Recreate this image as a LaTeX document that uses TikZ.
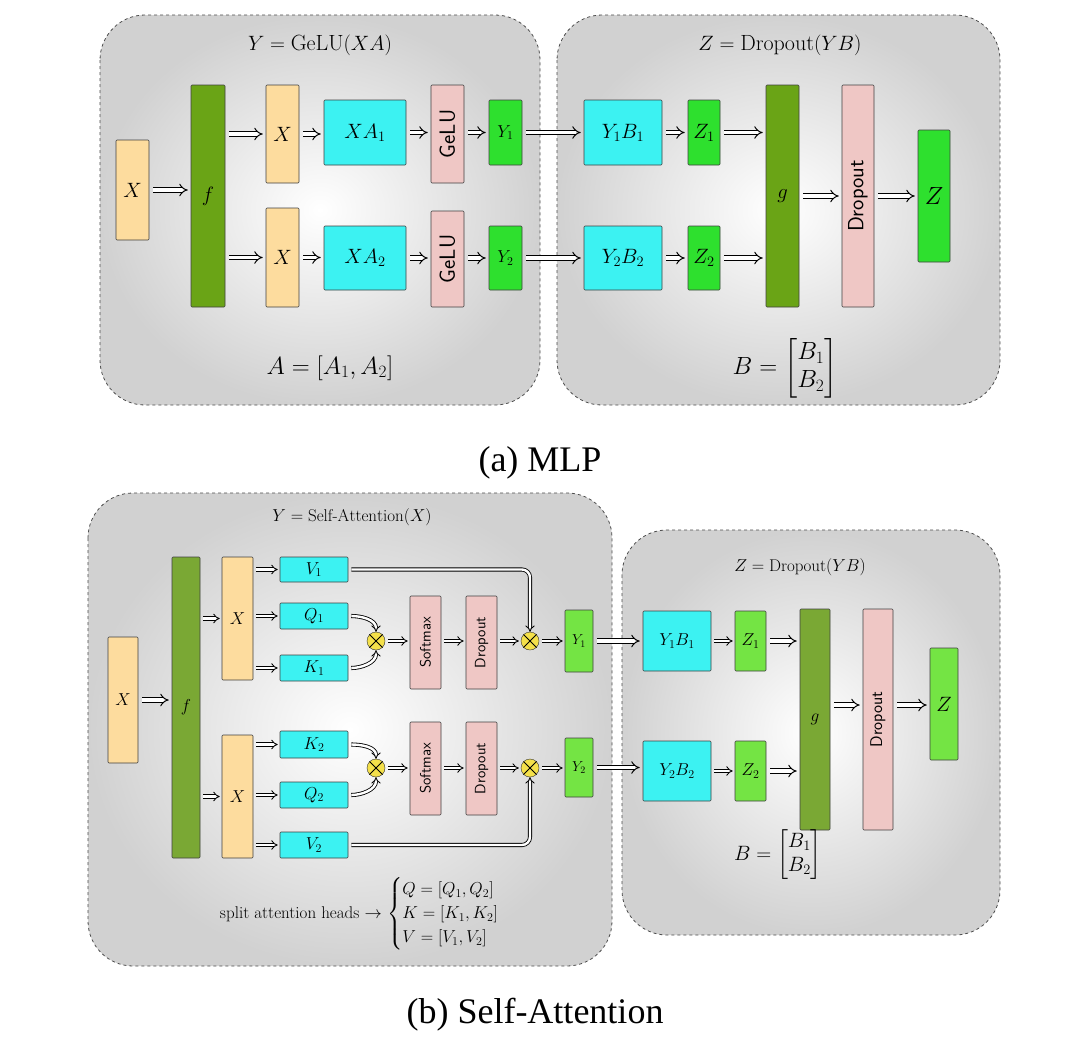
\documentclass[tikz,border=0pt]{standalone}
\usepackage{amsmath}
\usepackage{fontspec}
\newfontfamily\capfont{Liberation Serif}
\usetikzlibrary{arrows.meta}
\definecolor{org}{HTML}{FDDC9E}
\definecolor{cyn}{HTML}{3CF2F2}
\definecolor{grA}{HTML}{2EE02E}
\definecolor{grB}{HTML}{74E444}
\definecolor{dgA}{HTML}{6AA416}
\definecolor{dgB}{HTML}{7AA834}
\definecolor{pnk}{HTML}{EFC7C5}
\definecolor{ylw}{HTML}{F4E04A}
\newcommand{\bx}[7]{\node[box,fill=#2,minimum width={(#5-#3)*1pt},minimum height={(#6-#4)*1pt}] (#1) at ({(#3+#5)/2},{(#4+#6)/2}) {#7};}
\newcommand{\rbx}[7]{\node[box,fill=#2,rotate=90,minimum height={(#5-#3)*1pt},minimum width={(#6-#4)*1pt}] (#1) at ({(#3+#5)/2},{(#4+#6)/2}) {#7};}
\newcommand{\otm}[3]{\node[circle,draw=black!80,fill=ylw,minimum size=18pt,inner sep=0] (#1) at (#2,#3) {};
\draw[line width=0.8pt] (#1.north east)--(#1.south west) (#1.north west)--(#1.south east);}
\begin{document}
\begin{tikzpicture}[x=1pt,y=-1pt,
 box/.style={draw=black!75,line width=0.6pt,inner sep=0,rounded corners=1pt},
 panel/.style={draw=black!70,dashed,line width=0.8pt,rounded corners=45pt,inner color=white,outer color=black!18},
 ar/.style={double,double distance=3.4pt,line width=1pt,-{Implies},shorten >=3pt,shorten <=4pt},
 sar/.style={double,double distance=2.4pt,line width=0.85pt,-{Implies},shorten >=2pt,shorten <=3pt}]
\useasboundingbox (0,0) rectangle (1080,1047);
\fill[white] (0,0) rectangle (1080,1047);
% ---------- MLP
\shade[panel] (100,15) rectangle (540,405);
\shade[panel] (557,15) rectangle (1000,405);
\begin{scope}[font=\fontsize{22}{26}\selectfont]
\node (t1) at (320,45) {$Y=\mathrm{GeLU}(XA)$};
\node (t2) at (780,45) {$Z=\mathrm{Dropout}(YB)$};
\bx{x0}{org}{116}{140}{149}{240}{$X$}
\bx{f}{dgA}{191}{85}{225}{307}{$f$}
\bx{xa}{org}{266}{85}{299}{183}{$X$}
\bx{xb}{org}{266}{208}{299}{307}{$X$}
\bx{xa1}{cyn}{324}{100}{406}{165}{$XA_1$}
\bx{xa2}{cyn}{324}{226}{406}{290}{$XA_2$}
\rbx{ga}{pnk}{431}{85}{464}{183}{\sffamily GeLU}
\rbx{gb}{pnk}{431}{211}{464}{307}{\sffamily GeLU}
\bx{y1}{grA}{489}{100}{522}{165}{\fontsize{17}{20}\selectfont$Y_1$}
\bx{y2}{grA}{489}{226}{522}{290}{\fontsize{17}{20}\selectfont$Y_2$}
\bx{yb1}{cyn}{584}{100}{662}{165}{$Y_1B_1$}
\bx{yb2}{cyn}{584}{226}{662}{290}{$Y_2B_2$}
\bx{z1}{grA}{688}{100}{720}{165}{$Z_1$}
\bx{z2}{grA}{688}{226}{720}{290}{$Z_2$}
\bx{g}{dgA}{766}{85}{799}{307}{$g$}
\rbx{dr}{pnk}{842}{85}{874}{307}{\sffamily Dropout}
\bx{z}{grA}{918}{130}{950}{262}{\fontsize{26}{30}\selectfont$Z$}
\node (am) at (330,368) {\fontsize{26}{30}\selectfont$A=[A_1,A_2]$};
\node (bm) at (785,368) {\fontsize{24}{28}\selectfont$B=\begin{bmatrix}B_1\\B_2\end{bmatrix}$};
\end{scope}
\draw[ar] (x0.east) -- (f.west |- x0.east);
\draw[ar] (f.east |- xa.west) -- (xa.west);
\draw[ar] (f.east |- xb.west) -- (xb.west);
\foreach \a/\b in {xa/xa1,xb/xa2,y1/yb1,y2/yb2,yb1/z1,yb2/z2}{\draw[ar] (\a.east) -- (\b.west |- \a.east);}
\draw[ar] (xa1.east) -- (ga.north |- xa1.east);
\draw[ar] (xa2.east) -- (gb.north |- xa2.east);
\draw[ar] (ga.south |- y1.west) -- (y1.west);
\draw[ar] (gb.south |- y2.west) -- (y2.west);
\draw[ar] (z1.east) -- (g.west |- z1.east);
\draw[ar] (z2.east) -- (g.west |- z2.east);
\draw[ar] (g.east |- 0,196) -- (dr.north |- 0,196);
\draw[ar] (dr.south |- 0,196) -- (z.west |- 0,196);
\node (ca) at (540,463) {\capfont\fontsize{36}{40}\selectfont (a) MLP};
% ---------- Self-attention
\shade[panel] (88,493) rectangle (612,966);
\shade[panel] (622,530) rectangle (1000,935);
\begin{scope}[font=\fontsize{17}{20}\selectfont]
\node (t3) at (352,517) {$Y=\mathrm{Self\text{-}Attention}(X)$};
\node (t4) at (800,567) {$Z=\mathrm{Dropout}(YB)$};
\bx{bx0}{org}{108}{637}{138}{763}{$X$}
\bx{bf}{dgB}{172}{557}{200}{858}{$f$}
\bx{bxa}{org}{222}{557}{253}{680}{$X$}
\bx{bxb}{org}{222}{735}{253}{858}{$X$}
\bx{v1}{cyn}{280}{557}{348}{582}{$V_1$}
\bx{q1}{cyn}{280}{603}{348}{629}{$Q_1$}
\bx{k1}{cyn}{280}{655}{348}{681}{$K_1$}
\bx{k2}{cyn}{280}{731}{348}{758}{$K_2$}
\bx{q2}{cyn}{280}{782}{348}{808}{$Q_2$}
\bx{v2}{cyn}{280}{832}{348}{858}{$V_2$}
\rbx{sa}{pnk}{410}{596}{441}{689}{\sffamily\fontsize{15}{17}\selectfont Softmax}
\rbx{da}{pnk}{466}{596}{497}{689}{\sffamily\fontsize{15}{17}\selectfont Dropout}
\rbx{sb}{pnk}{410}{722}{441}{815}{\sffamily\fontsize{15}{17}\selectfont Softmax}
\rbx{db}{pnk}{466}{722}{497}{815}{\sffamily\fontsize{15}{17}\selectfont Dropout}
\bx{by1}{grB}{565}{610}{593}{672}{\fontsize{14}{16}\selectfont$Y_1$}
\bx{by2}{grB}{565}{738}{593}{797}{\fontsize{14}{16}\selectfont$Y_2$}
\bx{byb1}{cyn}{643}{611}{711}{671}{$Y_1B_1$}
\bx{byb2}{cyn}{643}{741}{711}{801}{$Y_2B_2$}
\bx{bz1}{grB}{735}{611}{766}{671}{$Z_1$}
\bx{bz2}{grB}{735}{741}{766}{801}{$Z_2$}
\bx{bg}{dgB}{800}{609}{830}{830}{$g$}
\rbx{bdr}{pnk}{863}{609}{893}{830}{\sffamily Dropout}
\bx{bz}{grB}{930}{648}{958}{760}{\fontsize{22}{26}\selectfont$Z$}
\node (bbm) at (778,855) {\fontsize{20}{24}\selectfont$B=\begin{bmatrix}B_1\\B_2\end{bmatrix}$};
\node (spl) at (368,914) {split attention heads $\rightarrow$ $\begin{cases}Q=[Q_1,Q_2]\\K=[K_1,K_2]\\V=[V_1,V_2]\end{cases}$};
\end{scope}
\otm{o1}{376}{641}
\otm{o2}{530}{641}
\otm{o3}{376}{768}
\otm{o4}{530}{768}
\draw[ar] (bx0.east) -- (bf.west |- bx0.east);
\draw[sar] (bf.east |- bxa.west) -- (bxa.west);
\draw[sar] (bf.east |- bxb.west) -- (bxb.west);
\foreach \a/\b in {bxa/v1,bxa/q1,bxa/k1,bxb/k2,bxb/q2,bxb/v2}{\draw[sar] (\a.east |- \b.west) -- (\b.west);}
\draw[sar,shorten >=0pt] (q1.east) to[out=0,in=90] (o1.north);
\draw[sar,shorten >=0pt] (k1.east) to[out=0,in=-90] (o1.south);
\draw[sar,shorten >=0pt] (k2.east) to[out=0,in=90] (o3.north);
\draw[sar,shorten >=0pt] (q2.east) to[out=0,in=-90] (o3.south);
\draw[sar,rounded corners=8pt,shorten >=0pt] (v1.east) -| (o2.north);
\draw[sar,rounded corners=8pt,shorten >=0pt] (v2.east) -| (o4.south);
\draw[sar] (o1.east) -- (sa.north |- o1.east);
\draw[sar] (sa.south |- o1.east) -- (da.north |- o1.east);
\draw[sar] (da.south |- o1.east) -- (o2.west);
\draw[sar] (o2.east) -- (by1.west |- o2.east);
\draw[sar] (o3.east) -- (sb.north |- o3.east);
\draw[sar] (sb.south |- o3.east) -- (db.north |- o3.east);
\draw[sar] (db.south |- o3.east) -- (o4.west);
\draw[sar] (o4.east) -- (by2.west |- o4.east);
\draw[ar] (by1.east) -- (byb1.west |- by1.east);
\draw[ar] (by2.east) -- (byb2.west |- by2.east);
\draw[sar] (byb1.east) -- (bz1.west |- byb1.east);
\draw[sar] (byb2.east) -- (bz2.west |- byb2.east);
\draw[ar] (bz1.east) -- (bg.west |- bz1.east);
\draw[ar] (bz2.east) -- (bg.west |- bz2.east);
\draw[ar] (bg.east |- 0,705) -- (bdr.north |- 0,705);
\draw[ar] (bdr.south |- 0,705) -- (bz.west |- 0,705);
\node (cb) at (535,1015) {\capfont\fontsize{36}{40}\selectfont (b) Self-Attention};
\end{tikzpicture}
\end{document}
